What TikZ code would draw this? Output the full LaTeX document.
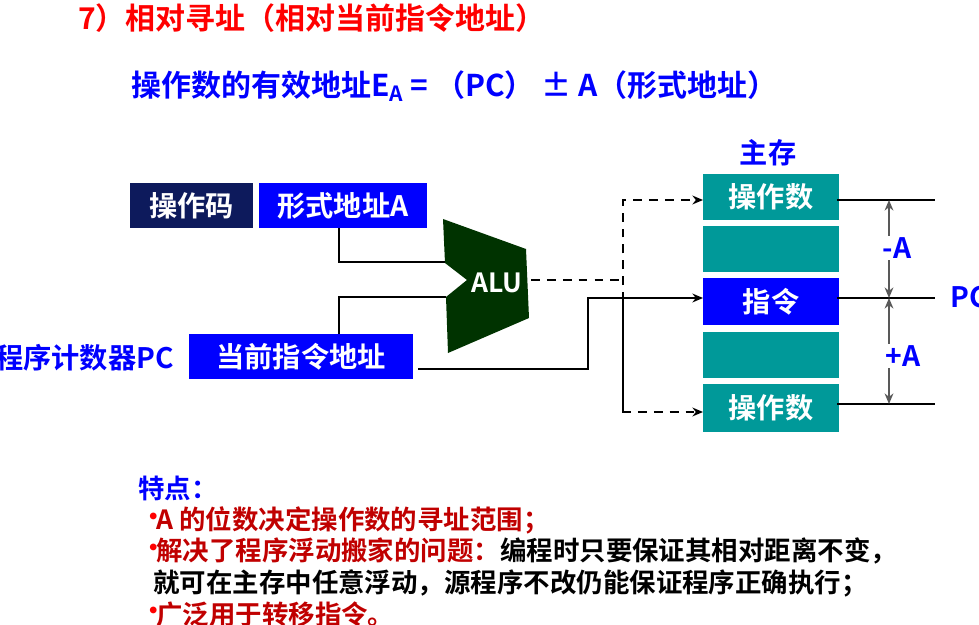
\documentclass[tikz,border=0pt]{standalone}
\usepackage{fontspec}
\setmainfont{Noto Sans CJK SC}[BoldFont={* Bold}]
\usetikzlibrary{arrows.meta}
\definecolor{tealc}{HTML}{009999}
\definecolor{navy}{HTML}{0D1A5C}
\definecolor{dred}{HTML}{C00000}
\definecolor{alug}{HTML}{003300}
\begin{document}
\begin{tikzpicture}[x=0.567pt,y=-0.567pt,
  every node/.style={font=\bfseries},
  box/.style={draw=none,inner sep=0,text=white,font=\bfseries\fontsize{16}{18}\selectfont},
  wire/.style={black,line width=1.2pt},
  dwire/.style={black,line width=1.2pt,dashed,dash pattern=on 5pt off 4pt},
  arr/.style={-{Stealth[length=6pt,width=5pt]}}]
\useasboundingbox (0,0) rectangle (979,625);
\node[anchor=west,text=red,font=\bfseries\fontsize{17}{20}\selectfont] (title) at (72,18) {7）相对寻址（相对当前指令地址）};
\node[anchor=west,text=blue,font=\bfseries\fontsize{17}{20}\selectfont] (form) at (125,86) {操作数的有效地址E\textsubscript{A} = （PC） ± A（形式地址）};
% left boxes
\path[fill=navy] (130,183) rectangle (253,228);
\node[box] (op) at (191.5,205.5) {操作码};
\path[fill=blue] (259,183) rectangle (427,228);
\node[box] (fa) at (343,205.5) {形式地址A};
\node[anchor=east,text=blue,font=\bfseries\fontsize{16}{18}\selectfont] (pcl) at (180,358) {程序计数器PC};
\path[fill=blue] (189,334) rectangle (413,379);
\node[box] (cur) at (301,356.5) {当前指令地址};
% ALU
\path[fill=alug] (443,219) -- (526,249) -- (529,318) -- (448,353) -- (446,297) -- (467,280) -- (445,263) -- cycle;
\node[box,font=\bfseries\fontsize{15}{18}\selectfont] (alu) at (497,283) {ALU};
\coordinate (aluA) at (445,262);
\coordinate (aluB) at (446,297);
\coordinate (aluO) at (531,280);
% memory
\path[fill=tealc] (703,174) rectangle (839,220);
\node[box] (m1) at (771,197) {操作数};
\path[fill=tealc] (703,226) rectangle (839,272);
\path[fill=blue] (703,278) rectangle (839,325);
\node[box] (m3) at (771,301.5) {指令};
\path[fill=tealc] (703,332) rectangle (839,378);
\path[fill=tealc] (703,384) rectangle (839,432);
\node[box] (m5) at (771,408) {操作数};
\node[text=blue,font=\bfseries\fontsize{16}{18}\selectfont] (mm) at (768,153) {主存};
% wires
\draw[wire] (339,228) -- (339,262) -- (aluA);
\draw[wire] (339,334) -- (339,297) -- (aluB);
\draw[wire,arr] (418,369) -- (588,369) -- (588,298) -- (703,298);
\draw[dwire] (aluO) -- (623,280);
\draw[dwire,arr] (623,412) -- (623,200) -- (703,200);
\draw[dwire,arr] (623,300) -- (623,412) -- (703,412);
% right
\draw[black,line width=0.6pt] (837,200) -- (935,200);
\draw[black,line width=1.2pt] (837,298) -- (935,298);
\draw[black,line width=0.6pt] (837,404) -- (935,404);
\draw[gray!70!black,line width=0.8pt,{Stealth[length=6pt,width=5pt]}-{Stealth[length=6pt,width=5pt]}] (889,200) -- (889,298);
\draw[gray!70!black,line width=0.8pt,{Stealth[length=6pt,width=5pt]}-{Stealth[length=6pt,width=5pt]}] (889,298) -- (889,404);
\node[fill=white,inner sep=1pt,text=blue,font=\bfseries\fontsize{16}{18}\selectfont] (ma) at (897,248) {-A};
\node[fill=white,inner sep=1pt,text=blue,font=\bfseries\fontsize{16}{18}\selectfont] (pa) at (903,356) {+A};
\node[anchor=west,text=blue,font=\bfseries\fontsize{16}{18}\selectfont] (pc) at (944,297) {PC};
% bottom
\begin{scope}[every node/.style={anchor=west,inner sep=0,font=\bfseries\fontsize{15}{17}\selectfont}]
\node[text=blue] (t0) at (138,488) {特点：};
\node[text=red] (b1) at (140,520) {•};
\node[text=dred] (l1) at (156,520) {A 的位数决定操作数的寻址范围；};
\node[text=red] (b2) at (140,551) {•};
\node[text=dred] (l2) at (156,551) {解决了程序浮动搬家的问题：\textcolor{black}{编程时只要保证其相对距离不变，}};
\node[text=black] (l3) at (153,583) {就可在主存中任意浮动，源程序不改仍能保证程序正确执行；};
\node[text=red] (b4) at (140,614) {•};
\node[text=dred] (l4) at (156,614) {广泛用于转移指令。};
\end{scope}
\end{tikzpicture}
\end{document}
